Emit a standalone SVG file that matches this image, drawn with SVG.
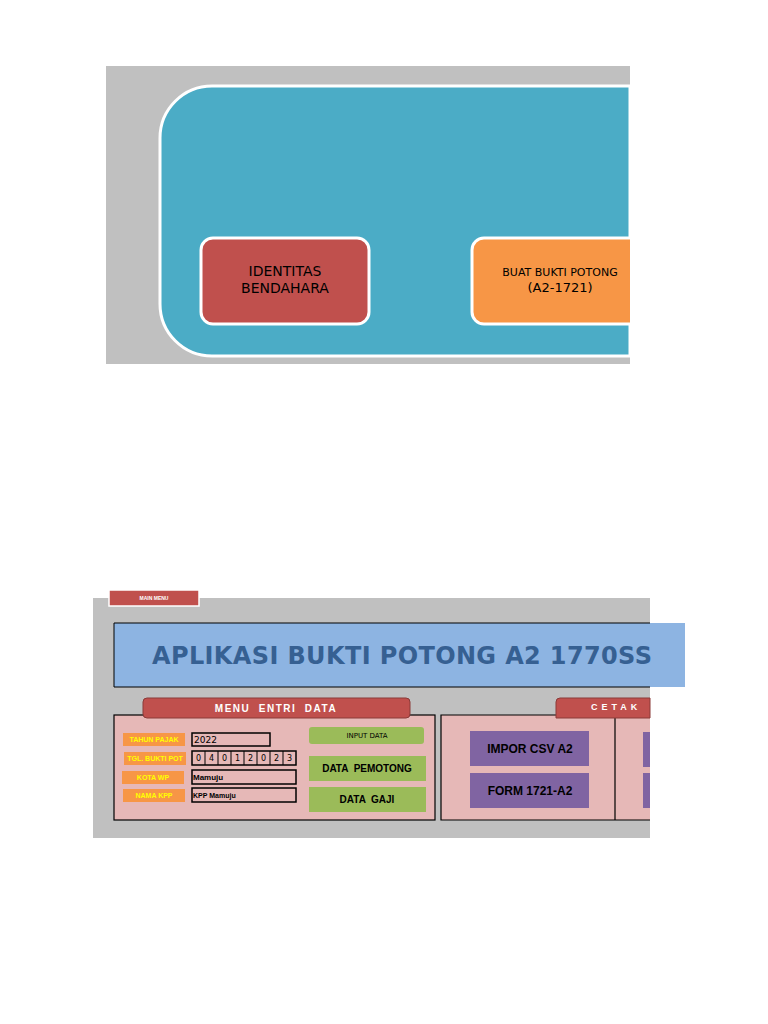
<svg xmlns="http://www.w3.org/2000/svg" width="768" height="1024" viewBox="0 0 768 1024">
<style>
text{font-family:"DejaVu Sans","Liberation Sans",sans-serif}
.a{font-family:"Liberation Sans",Arial,sans-serif;font-weight:bold}
.lab{fill:#f79646}
.lt{font-family:"Liberation Sans",sans-serif;font-weight:bold;font-size:7px;fill:#ffff00}
.fld{fill:#e6b8b7;stroke:#000;stroke-width:1.5}
.g{fill:#9bbb59}
.p{fill:#8064a2}
</style>
<rect width="768" height="1024" fill="#fff"/>
<g id="top">
<rect x="106" y="66" width="524" height="298" fill="#c0c0c0"/>
<path d="M630 86 H212 A52 52 0 0 0 160 138 V304 A52 52 0 0 0 212 356 H630 Z" fill="#4bacc6" stroke="#fff" stroke-width="3"/>
<g id="identitas"><rect x="201" y="238" width="168" height="86" rx="12" fill="#c0504d" stroke="#fff" stroke-width="3"/>
<text x="285" y="276" font-size="14" text-anchor="middle" fill="#000">IDENTITAS</text>
<text x="285" y="293" font-size="14" text-anchor="middle" fill="#000">BENDAHARA</text></g>
<g id="buat"><path d="M630 238 H484 A12 12 0 0 0 472 250 V312 A12 12 0 0 0 484 324 H630" fill="#f79646" stroke="#fff" stroke-width="3"/>
<text x="560" y="276" font-size="11" text-anchor="middle" fill="#000">BUAT BUKTI POTONG</text>
<text x="560" y="292" font-size="13" text-anchor="middle" fill="#000">(A2-1721)</text></g>
</g>
<g id="bottom">
<rect x="93" y="598" width="557" height="240" fill="#c0c0c0"/>
<g id="mainmenu"><rect x="109" y="590" width="90" height="16" fill="#c0504d" stroke="#fff" stroke-width="1.5"/>
<text x="154" y="600" font-size="5" text-anchor="middle" fill="#fff" class="a">MAIN MENU</text></g>
<g id="title"><rect x="114" y="623" width="571" height="64" fill="#8db4e2"/>
<path d="M650 687 H114 V623 H650" fill="none" stroke="#000"/>
<text x="152" y="664" font-size="24" font-weight="bold" fill="#366092" textLength="500">APLIKASI BUKTI POTONG A2 1770SS</text></g>
<rect x="114" y="715" width="321" height="105" fill="#e6b8b7" stroke="#000" stroke-width="1.2"/>
<rect x="441" y="715" width="209" height="105" fill="#e6b8b7"/>
<path d="M650 715 H441 V820 H650 M615 715 V820" fill="none" stroke="#000" stroke-width="1.2"/>
<g id="menuentri"><rect x="143" y="698" width="267" height="20" rx="4" fill="#c0504d" stroke="#8b3a38"/>
<text x="276" y="712" font-size="10" text-anchor="middle" fill="#fff" class="a" letter-spacing="1.5" xml:space="preserve">MENU  ENTRI  DATA</text></g>
<g id="cetak"><path d="M650 698 H560 A4 4 0 0 0 556 702 V718 H650 Z" fill="#c0504d" stroke="#8b3a38"/>
<text x="591" y="710" font-size="9" fill="#fff" class="a" letter-spacing="4">CETAK</text></g>
<g id="labels">
<rect class="lab" x="123" y="733" width="62" height="13"/><text class="lt" x="154" y="742" text-anchor="middle">TAHUN PAJAK</text>
<rect class="lab" x="124" y="752" width="62" height="13"/><text class="lt" x="155" y="761" text-anchor="middle">TGL. BUKTI POT</text>
<rect class="lab" x="122" y="771" width="62" height="13"/><text class="lt" x="153" y="780" text-anchor="middle">KOTA WP</text>
<rect class="lab" x="123" y="789" width="62" height="13"/><text class="lt" x="154" y="798" text-anchor="middle">NAMA KPP</text>
</g>
<g id="fields">
<rect class="fld" x="192" y="733" width="78" height="13"/><text x="194" y="743" font-size="9" font-family="Liberation Sans,sans-serif">2022</text>
<rect class="fld" x="192" y="751" width="104" height="14"/>
<path d="M205 751V765M218 751V765M231 751V765M244 751V765M257 751V765M270 751V765M283 751V765" stroke="#000"/>
<g font-size="8" text-anchor="middle"><text x="198.5" y="761">0</text><text x="211.5" y="761">4</text><text x="224.5" y="761">0</text><text x="237.5" y="761">1</text><text x="250.5" y="761">2</text><text x="263.5" y="761">0</text><text x="276.5" y="761">2</text><text x="289.5" y="761">3</text></g>
<rect class="fld" x="192" y="770" width="104" height="14"/><text x="193" y="780" font-size="8" class="a">Mamuju</text>
<rect class="fld" x="192" y="788" width="104" height="14"/><text x="193" y="798" font-size="7" class="a">KPP Mamuju</text>
</g>
<g id="inputdata"><rect class="g" x="309" y="727" width="115" height="17" rx="3"/><text x="367" y="738" font-size="7" text-anchor="middle" font-family="Liberation Sans,sans-serif">INPUT DATA</text></g>
<g id="datapemotong"><rect class="g" x="309" y="756" width="117" height="25"/><text x="367" y="772" font-size="10" text-anchor="middle" class="a" xml:space="preserve">DATA  PEMOTONG</text></g>
<g id="datagaji"><rect class="g" x="309" y="787" width="117" height="25"/><text x="367" y="803" font-size="10" text-anchor="middle" class="a" xml:space="preserve">DATA  GAJI</text></g>
<g id="impor"><rect class="p" x="470" y="731" width="119" height="35"/><text x="530" y="753" font-size="12" text-anchor="middle" class="a">IMPOR CSV A2</text></g>
<g id="form"><rect class="p" x="470" y="773" width="119" height="35"/><text x="530" y="795" font-size="12" text-anchor="middle" class="a">FORM 1721-A2</text></g>
<rect class="p" x="643" y="732" width="7" height="35"/>
<rect class="p" x="643" y="773" width="7" height="35"/>
</g>
<g id="connectors"/>
</svg>
